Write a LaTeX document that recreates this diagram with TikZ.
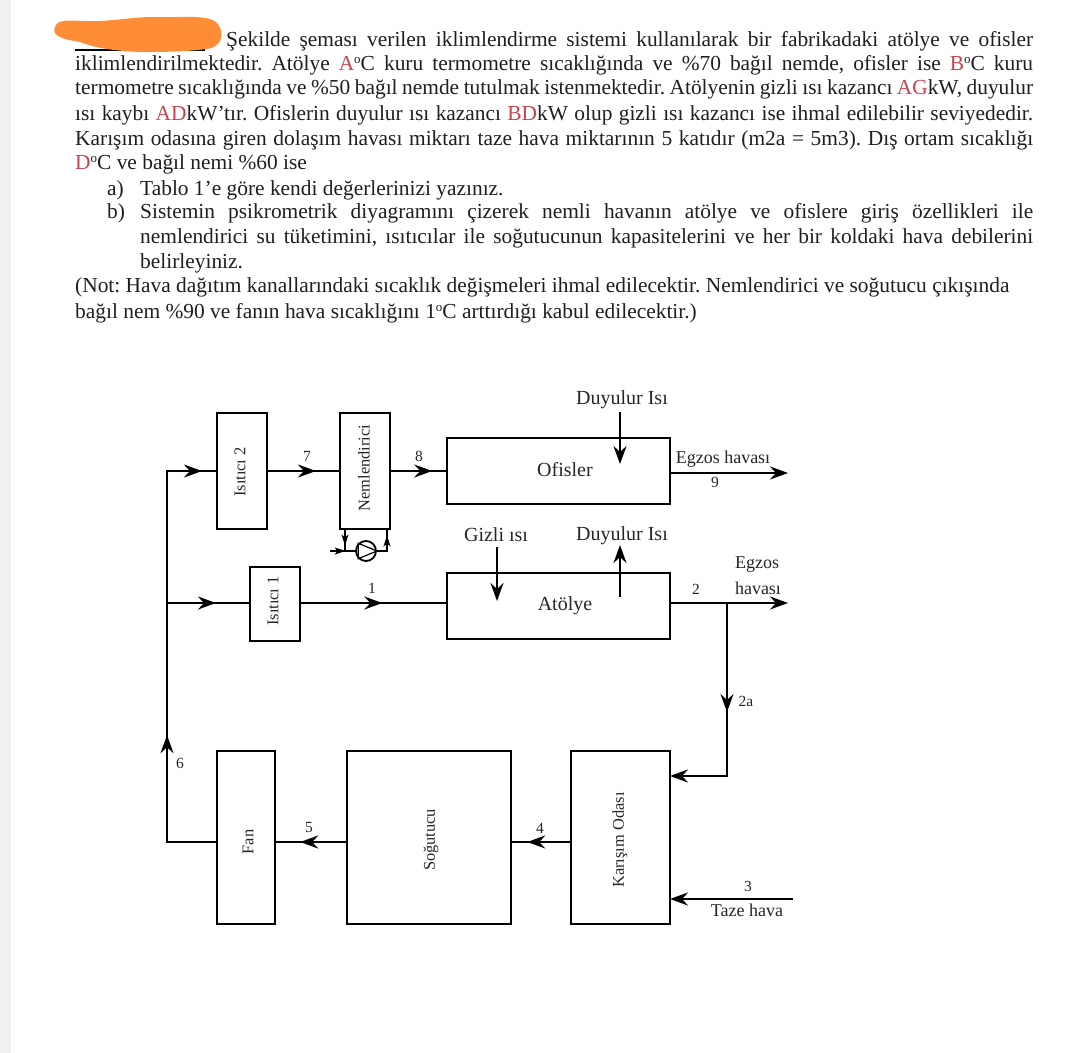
\documentclass[tikz,border=0pt]{standalone}
\usepackage{fontspec}
\setmainfont{Liberation Serif}
\usetikzlibrary{arrows.meta}
\usetikzlibrary{decorations.markings}
\definecolor{blobcol}{HTML}{FF8C36}
\definecolor{mark}{HTML}{C9434C}
\frenchspacing
\newcommand{\jline}[2]{\makebox[#1pt][s]{#2}}
\newcommand{\rd}[1]{\textcolor{mark}{#1}}
\newcommand{\degc}{\raisebox{7pt}{\fontsize{13}{13}\selectfont o}C}
\tikzset{
    x=1pt, y=-1pt,
    >={Stealth[length=18pt,width=13pt,inset=6pt]},
    box/.style={draw, line width=2.2pt, inner sep=0pt, outer sep=0pt},
    pipe/.style={line width=2.2pt},
    water/.style={line width=1.8pt, >={Stealth[length=11pt,width=7pt,inset=3pt]}},
    flow/.style={postaction={decorate,decoration={markings,mark=at position #1 with {\arrow{>}}}}},
    bodytext/.style={anchor=base west, inner sep=0pt, font=\fontsize{21.4}{24}\selectfont, text=black!88},
    lbl/.style={inner sep=0pt, font=\fontsize{20}{22}\selectfont, text=black!85},
    smalllbl/.style={inner sep=0pt, font=\fontsize{18}{20}\selectfont, text=black!85},
    vlbl/.style={inner sep=0pt, rotate=90, font=\fontsize{16.4}{18}\selectfont, text=black!85},
    num/.style={inner sep=0pt, font=\fontsize{15.5}{17}\selectfont, text=black!85}
}
\begin{document}
\begin{tikzpicture}
\useasboundingbox (0,0) rectangle (1080,1053);
\fill[white] (0,0) rectangle (1080,1053);
\fill[black!6] (0,0) rectangle (11,1053);

% question text
\draw[line width=1.5pt] (75,50) -- (205,50);
\fill[blobcol] (55,27) .. controls (58,18) and (72,21) .. (85,21) .. controls (110,22) and (130,17) .. (153,17) .. controls (180,18) and (205,14) .. (216,22) .. controls (224,30) and (224,42) .. (212,48) .. controls (190,52) and (160,52) .. (140,52) .. controls (115,51) and (95,48) .. (80,42) .. controls (70,40) and (50,38) .. (55,27) -- cycle;
\node[bodytext] (l1) at (226,46) {\jline{807}{Şekilde şeması verilen iklimlendirme sistemi kullanılarak bir fabrikadaki atölye ve ofisler}};
\node[bodytext] (l2) at (75,70) {\jline{958}{iklimlendirilmektedir. Atölye \rd{A}\degc{} kuru termometre sıcaklığında ve \%70 bağıl nemde, ofisler ise \rd{B}\degc{} kuru}};
\node[bodytext] (l3) at (75,94) {\jline{958}{termometre sıcaklığında ve \%50 bağıl nemde tutulmak istenmektedir. Atölyenin gizli ısı kazancı \rd{AG}kW, duyulur}};
\node[bodytext] (l4) at (75,120) {\jline{958}{ısı kaybı \rd{AD}kW'tır. Ofislerin duyulur ısı kazancı \rd{BD}kW olup gizli ısı kazancı ise ihmal edilebilir seviyededir.}};
\node[bodytext] (l5) at (75,145) {\jline{958}{Karışım odasına giren dolaşım havası miktarı taze hava miktarının 5 katıdır (m2a = 5m3). Dış ortam sıcaklığı}};
\node[bodytext] (l6) at (75,169) {\rd{D}\degc{} ve bağıl nemi \%60 ise};
\node[bodytext] (l7a) at (107,195) {a)};
\node[bodytext] (l7) at (140,195) {Tablo 1’e göre kendi değerlerinizi yazınız.};
\node[bodytext] (l8) at (107,218) {b)};
\node[bodytext] (l9) at (140,218) {\jline{893}{Sistemin psikrometrik diyagramını çizerek nemli havanın atölye ve ofislere giriş özellikleri ile}};
\node[bodytext] (l10) at (140,243) {\jline{893}{nemlendirici su tüketimini, ısıtıcılar ile soğutucunun kapasitelerini ve her bir koldaki hava debilerini}};
\node[bodytext] (l11) at (140,268) {belirleyiniz.};
\node[bodytext] (l12) at (75,292) {(Not: Hava dağıtım kanallarındaki sıcaklık değişmeleri ihmal edilecektir. Nemlendirici ve soğutucu çıkışında};
\node[bodytext] (l13) at (75,318) {bağıl nem \%90 ve fanın hava sıcaklığını 1\degc{} arttırdığı kabul edilecektir.)};

% boxes
\node[box, minimum width=50pt, minimum height=116pt] (heat2) at (242,471) {};
\node[box, minimum width=50pt, minimum height=116pt] (humid) at (365,471) {};
\node[box, minimum width=223pt, minimum height=66pt] (office) at (558.5,471) {};
\node[box, minimum width=223pt, minimum height=66pt] (shop) at (558.5,606) {};
\node[box, minimum width=50pt, minimum height=74pt] (heat1) at (275,604) {};
\node[box, minimum width=58pt, minimum height=173pt] (fan) at (246,837.5) {};
\node[box, minimum width=164pt, minimum height=173pt] (cooler) at (429,837.5) {};
\node[box, minimum width=99pt, minimum height=173pt] (mixer) at (620.5,837.5) {};
\node[draw, circle, line width=1.8pt, minimum size=20pt, inner sep=0pt] (pump) at (366,551) {};

% box texts
\node[vlbl] (heat2txt) at (240,472) {Isıtıcı 2};
\node[vlbl] (humidtxt) at (364,468) {Nemlendirici};
\node[vlbl] (heat1txt) at (273,601) {Isıtıcı 1};
\node[vlbl] (fantxt) at (248,842) {Fan};
\node[vlbl] (coolertxt) at (431,840) {Soğutucu};
\node[vlbl] (mixertxt) at (620,840) {Karışım Odası};
\node[lbl] (officetxt) at (565,470) {Ofisler};
\node[lbl] (shoptxt) at (565,606) {Atölye};

% free ends and corners
\coordinate (loop6) at (167,842);
\coordinate (looptop) at (167,471);
\coordinate (loopmid) at (167,603);
\coordinate (tee) at (727,603);
\coordinate (exh2) at (788,603);
\coordinate (exh9) at (788,473);
\coordinate (ret) at (727,776);
\coordinate (fresh) at (793,899);
\coordinate (sens1) at (620,412);
\coordinate (lat) at (497,547);
\coordinate (sens2) at (620,597);
\coordinate (sens2end) at (620,545);
\coordinate (lat2) at (497,601);
\coordinate (sens1end) at (620,464);
\coordinate (makeup) at (330,551);
\coordinate (pumpin) at (345,551);
\coordinate (pumpout) at (387,551);

% air lines
\draw[pipe, flow=0.333, flow=0.968] (fan.west |- loop6) -- (loop6) -- (looptop) -- (heat2.west |- looptop);
\draw[pipe, flow=0.59] (loopmid) -- (heat1.west |- loopmid);
\draw[pipe, flow=0.67] (heat2.east |- looptop) -- (humid.west |- looptop);
\draw[pipe, flow=0.74] (humid.east |- looptop) -- (office.west |- looptop);
\draw[pipe, flow=0.56] (heat1.east |- loopmid) -- (shop.west |- loopmid);
\draw[pipe, ->] (office.east |- exh9) -- (exh9);
\draw[pipe, ->] (shop.east |- exh2) -- (exh2);
\draw[pipe, ->, flow=0.474] (tee) -- (ret) -- (mixer.east |- ret);
\draw[pipe, ->] (fresh) -- (mixer.east |- fresh);
\draw[pipe, flow=0.73] (mixer.west |- loop6) -- (cooler.east |- loop6);
\draw[pipe, flow=0.65] (cooler.west |- loop6) -- (fan.east |- loop6);

% heat lines
\draw[pipe, ->] (sens1) -- (sens1end);
\draw[pipe, ->] (lat) -- (lat2);
\draw[pipe, ->] (sens2) -- (sens2end);

% water loop
\draw[water, flow=0.75] (humid.south -| pumpin) -- (pumpin);
\draw[water, flow=0.62] (makeup) -- (pump.west);
\draw[water, flow=0.8] (pump.east) -- (pumpout) -- (humid.south -| pumpout);
\draw[line width=1.2pt] (pump.north west) -- (pump.east) -- (pump.south west) -- cycle;

% labels
\node[lbl] (sens1txt) at (622,400) {Duyulur Isı};
\node[lbl] (lattxt) at (496,535) {Gizli ısı};
\node[lbl] (sens2txt) at (622,536) {Duyulur Isı};
\node[smalllbl] (exh9txt) at (723,459) {Egzos havası};
\node[smalllbl] (exh2txta) at (757,565) {Egzos};
\node[smalllbl] (exh2txtb) at (758,588) {havası};
\node[smalllbl] (freshtxt) at (747,910) {Taze hava};
\node[num] (n7) at (307,456) {7};
\node[num] (n8) at (419,456) {8};
\node[num] (n1) at (372,588) {1};
\node[num] (n9) at (715,482) {9};
\node[num] (n2) at (696,589) {2};
\node[num] (n2a) at (746,701) {2a};
\node[num] (n6) at (180,763) {6};
\node[num] (n5) at (309,827) {5};
\node[num] (n4) at (540,828) {4};
\node[num] (n3) at (748,886) {3};
\end{tikzpicture}
\end{document}
